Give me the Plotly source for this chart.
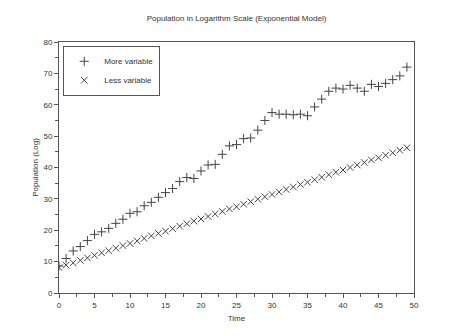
import plotly.graph_objects as go

time = list(range(50))
more_variable = [8.6, 11.0, 13.4, 14.8, 16.7, 18.7, 19.5, 20.6, 22.2, 23.5,
                 25.4, 25.9, 27.8, 28.9, 30.5, 32.0, 33.3, 35.5, 36.8, 36.5,
                 38.9, 40.8, 41.0, 44.2, 46.9, 47.3, 49.2, 49.4, 51.9, 55.0,
                 57.5, 57.0, 57.0, 56.8, 57.0, 56.5, 59.3, 61.8, 64.3, 65.3,
                 65.0, 66.2, 65.3, 64.3, 66.5, 65.8, 66.8, 68.0, 69.2, 72.0]
less_variable = [8.1, 8.9, 9.6, 10.4, 11.2, 12.0, 12.8, 13.5, 14.3, 15.1,
                 15.8, 16.6, 17.4, 18.2, 19.0, 19.7, 20.5, 21.3, 22.1, 22.9,
                 23.6, 24.4, 25.2, 26.0, 26.8, 27.5, 28.3, 29.1, 29.9, 30.7,
                 31.4, 32.2, 33.0, 33.8, 34.6, 35.3, 36.1, 36.9, 37.7, 38.5,
                 39.2, 40.0, 40.8, 41.6, 42.4, 43.1, 43.9, 44.7, 45.5, 46.3]

FONT = "Liberation Sans, Arial, sans-serif"
MC = "#444444"
TC = "#333333"

fig = go.Figure()
fig.add_trace(go.Scatter(x=time, y=more_variable, mode="markers", name="More variable",
                         marker=dict(symbol="cross-thin", size=6.5, line=dict(color=MC, width=1), color=MC)))
fig.add_trace(go.Scatter(x=time, y=less_variable, mode="markers", name="Less variable",
                         marker=dict(symbol="x-thin", size=6.5, line=dict(color=MC, width=1), color=MC)))

axis_common = dict(showgrid=False, zeroline=False, showline=True, linecolor="#555", linewidth=1,
                   mirror=True, ticks="outside", ticklen=4, tickcolor="#555",
                   tickfont=dict(size=8, color=TC, family=FONT))

fig.update_layout(
    width=474, height=335,
    margin=dict(l=59, r=60, t=42, b=42),
    paper_bgcolor="white", plot_bgcolor="white",
    font=dict(family=FONT, size=8, color=TC),
    title=dict(text="Population in Logarithm Scale (Exponential Model)", x=0.5, xref="paper",
               y=0.945, yref="container", xanchor="center", yanchor="middle",
               font=dict(size=8, color=TC, family=FONT)),
    xaxis=dict(range=[0, 50], tickvals=list(range(0, 51, 5)),
               minor=dict(tickvals=[2.5 + 5 * i for i in range(10)], ticks="outside", ticklen=3, tickcolor="#555"),
               title=dict(text="Time", standoff=6, font=dict(size=8, color=TC, family=FONT)),
               **axis_common),
    yaxis=dict(range=[0, 80], tickvals=list(range(0, 81, 10)),
               minor=dict(tickvals=[5 + 10 * i for i in range(8)], ticks="outside", ticklen=3, tickcolor="#555"),
               title=dict(text="Population (Log)", standoff=3, font=dict(size=8, color=TC, family=FONT)),
               **axis_common),
    legend=dict(x=0.012, y=0.985, xanchor="left", yanchor="top", bordercolor="#555", borderwidth=1,
                bgcolor="white", font=dict(size=8, color=TC, family=FONT),
                itemwidth=30, tracegroupgap=0),
    showlegend=True,
)

fig.write_html("out.html")
